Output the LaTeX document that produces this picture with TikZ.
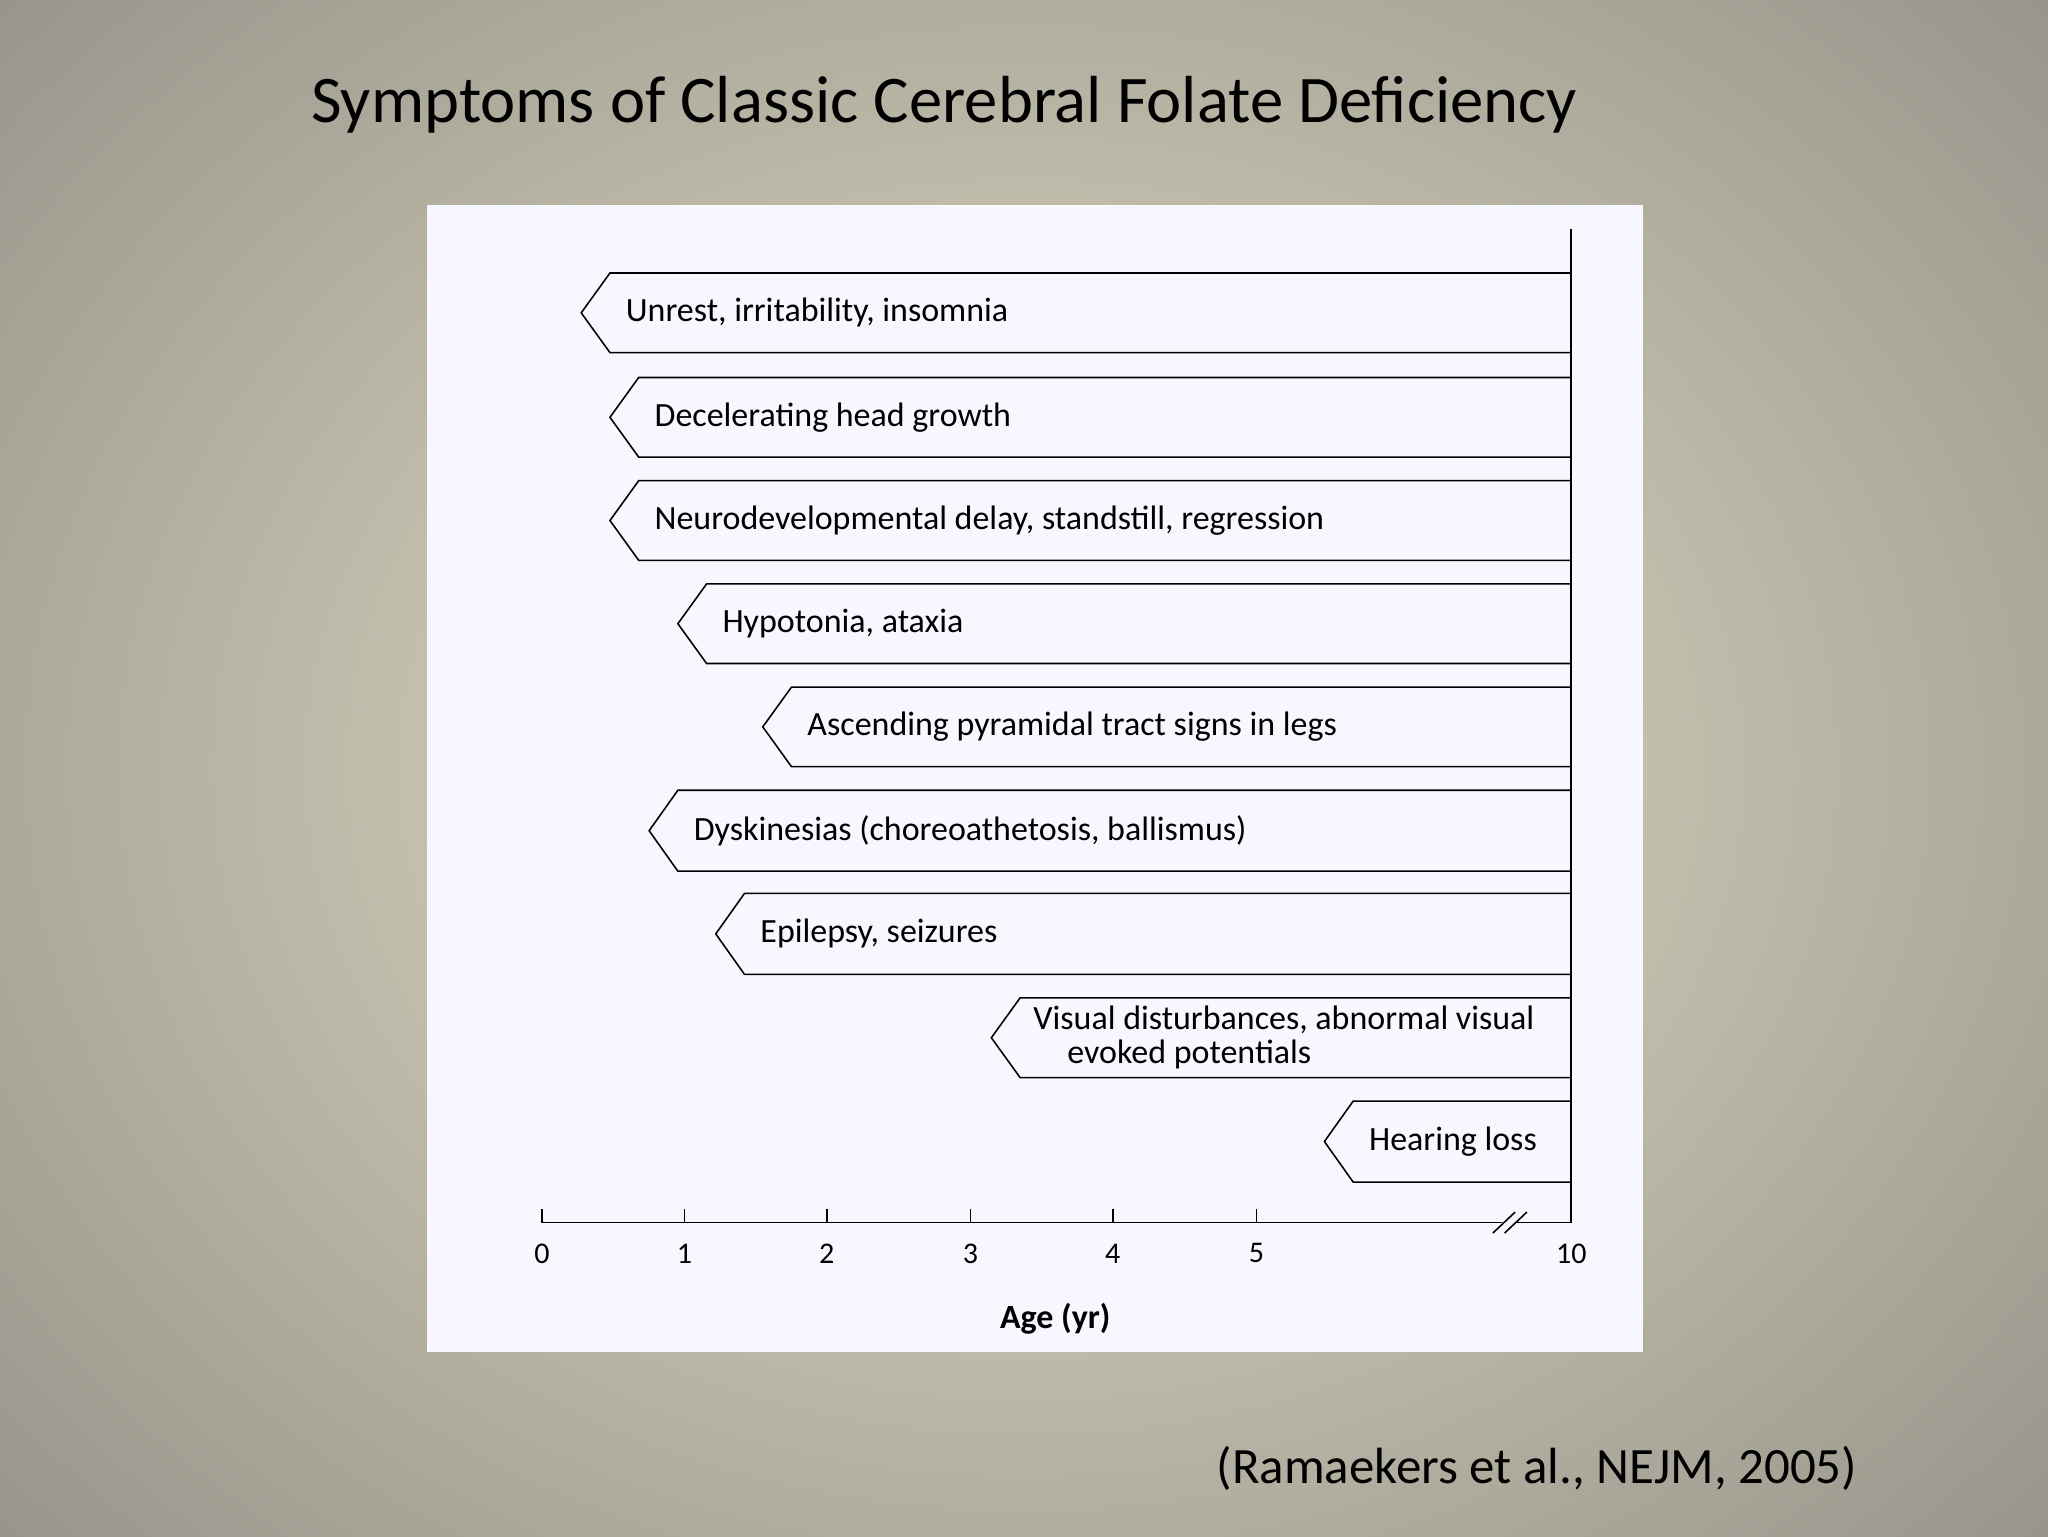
\documentclass[tikz,border=0pt]{standalone}
\usepackage{fontspec}
\setmainfont{Carlito}
\begin{document}
\begin{tikzpicture}[x=1pt,y=-1pt,
  bar/.style={draw=black,line width=1.2pt,line join=miter},
  lab/.style={anchor=west,font=\fontsize{26}{29}\selectfont,inner sep=0pt},
  tk/.style={anchor=north,font=\fontsize{23}{26}\selectfont,inner sep=0pt}]
\useasboundingbox (0,0) rectangle (1568,1176);
\shade[inner color={rgb,255:red,228;green,224;blue,200},outer color={rgb,255:red,150;green,148;blue,138},shading=radial] (-300,-300) rectangle (1868,1476);
\fill[white!97!blue] (327,157) rectangle (1258,1035);
\node[anchor=west,font=\fontsize{51}{55}\selectfont,inner sep=0pt] (title) at (238,80) {Symptoms of Classic Cerebral Folate Deficiency};
\node[anchor=east,font=\fontsize{39}{43}\selectfont,inner sep=0pt] (cite) at (1422,1124) {(Ramaekers et al., NEJM, 2005)};
\draw[line width=1.3pt] (1203,175) -- (1203,936);
\foreach \t/\b/\l/\txt in {209/270/467/{Unrest, irritability, insomnia},
  289/350/489/{Decelerating head growth},
  368/429/489/{Neurodevelopmental delay, standstill, regression},
  447/508/541/{Hypotonia, ataxia},
  526/587/606/{Ascending pyramidal tract signs in legs},
  605/667/519/{Dyskinesias (choreoathetosis, ballismus)},
  684/746/570/{Epilepsy, seizures},
  843/905/1036/{Hearing loss}}{
  \draw[bar] (1203,\t) -- (\l,\t) -- (\l-22,{(\t+\b)/2}) -- (\l,\b) -- (1203,\b);
  \node[lab] at (\l+12,{(\t+\b)/2}) {\txt};
}
\draw[bar] (1203,764) -- (781,764) -- (759,794.5) -- (781,825) -- (1203,825);
\node[anchor=west,align=left,font=\fontsize{26}{26}\selectfont,inner sep=0pt] (vis) at (791,794.5) {Visual disturbances, abnormal visual\\\hspace*{26pt}evoked potentials};
\draw[line width=1.2pt] (415,936) -- (1203,936);
\foreach \x/\n in {415/0,524/1,633/2,743/3,852/4,962/5,1203/10}{
  \draw[line width=1.2pt] (\x,936) -- (\x,926);
  \node[tk] at (\x,952) {\n};
}
\fill[white!97!blue] (1150,930) rectangle (1160,942);
\draw[line width=1.2pt] (1143,944) -- (1160,928) (1152,944) -- (1169,928);
\node[font=\bfseries\fontsize{26}{30}\selectfont,inner sep=0pt] (age) at (808,1010) {Age (yr)};
\end{tikzpicture}
\end{document}
